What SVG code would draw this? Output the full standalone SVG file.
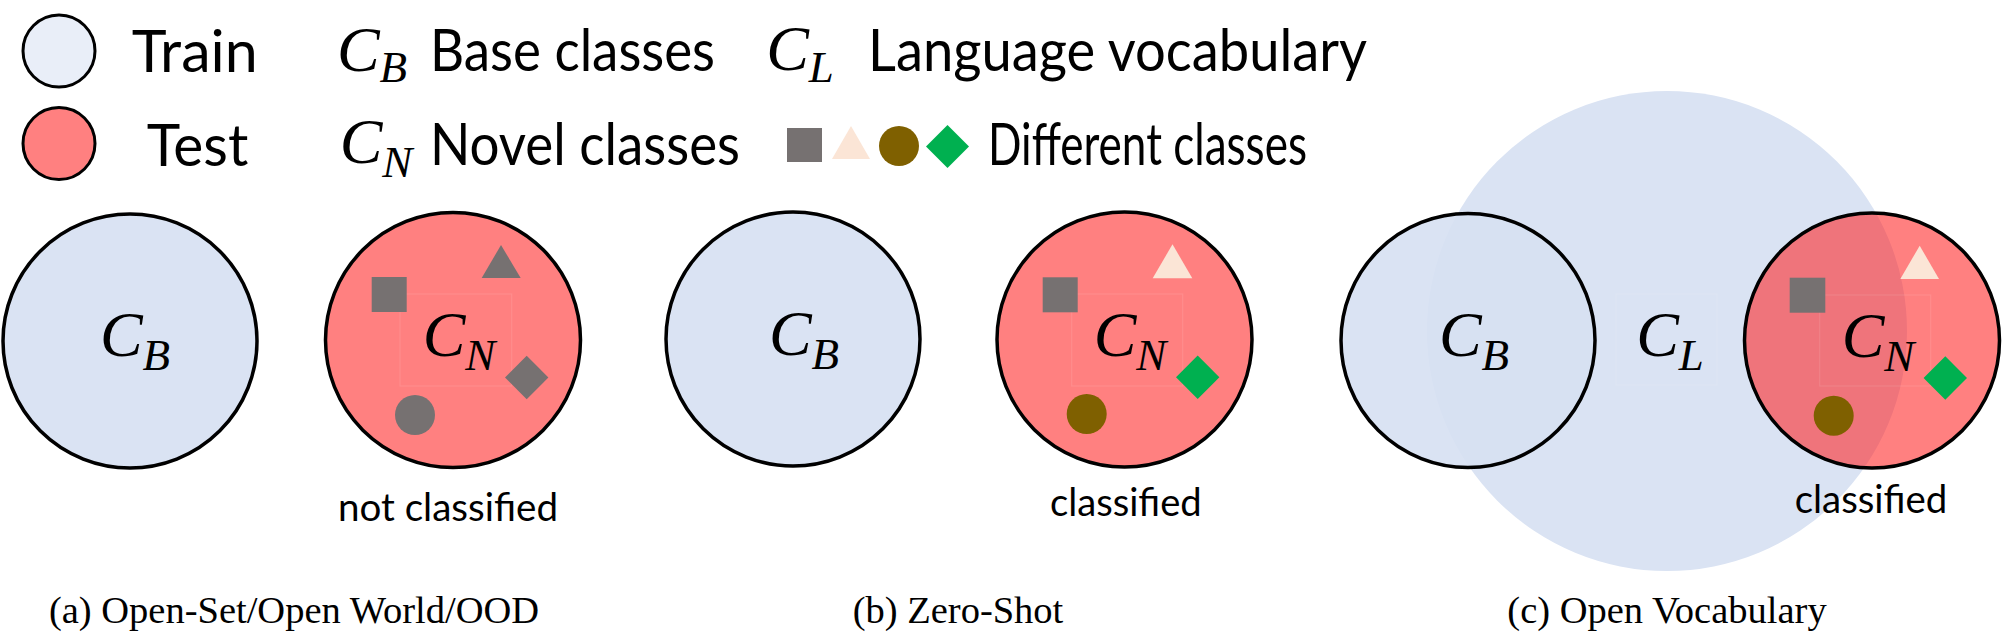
<svg xmlns="http://www.w3.org/2000/svg" width="2008" height="633" viewBox="0 0 2008 633">
<style>
.blue{fill:#DAE3F3;stroke:#000;stroke-width:3.5}
.bluet{fill:#D6E0F2;fill-opacity:.9;stroke:#000;stroke-width:3.5}
.red{fill:#FF2020;fill-opacity:.57;stroke:#000;stroke-width:3.5}
.lbl{font-family:Lato,'Open Sans','Liberation Sans',sans-serif;fill:#000}
.leg{font-size:58px}
.sm{font-size:38px}
.math{font-family:'Liberation Serif',serif;font-style:italic;font-size:64px;fill:#000;text-anchor:middle}
.sub{font-size:45px}
.cap{font-family:'Liberation Serif','Times New Roman',serif;font-size:38.5px;fill:#000;text-anchor:middle}
.gray{fill:#767171}
.peach{fill:#FBE5D6}
.brown{fill:#7F6000}
.green{fill:#00B050}
.tb{fill:none;stroke:#fff;stroke-opacity:.1;stroke-width:1.2}
</style>

<g id="legend">
  <g id="legend-train">
    <circle cx="59" cy="51" r="36" fill="#E9EEF8" stroke="#000" stroke-width="3"/>
    <text class="lbl leg" x="131.7" y="72" textLength="126" lengthAdjust="spacingAndGlyphs">Train</text>
  </g>
  <g id="legend-test">
    <circle cx="59" cy="143.5" r="36" fill="#FF2020" fill-opacity=".57" stroke="#000" stroke-width="3"/>
    <text class="lbl leg" x="146.7" y="166" textLength="101.6" lengthAdjust="spacingAndGlyphs">Test</text>
  </g>
  <g id="legend-cb">
    <text class="math" x="372" y="71">C<tspan class="sub" dy="11">B</tspan></text>
    <text class="lbl leg" x="430" y="71" textLength="285" lengthAdjust="spacingAndGlyphs">Base classes</text>
  </g>
  <g id="legend-cn">
    <text class="math" x="376" y="163">C<tspan class="sub" dy="14">N</tspan></text>
    <text class="lbl leg" x="430" y="165" textLength="310" lengthAdjust="spacingAndGlyphs">Novel classes</text>
  </g>
  <g id="legend-cl">
    <text class="math" x="800" y="70">C<tspan class="sub" dy="12">L</tspan></text>
    <text class="lbl leg" x="868" y="71" textLength="499" lengthAdjust="spacingAndGlyphs">Language vocabulary</text>
  </g>
  <g id="legend-shapes">
    <rect class="gray" x="787" y="128" width="35" height="34"/>
    <polygon class="peach" points="851,126 870,159 832,159"/>
    <circle class="brown" cx="899" cy="146" r="20"/>
    <polygon class="green" points="947.5,125 969,146.5 947.5,168 926,146.5"/>
    <text class="lbl leg" x="988" y="165" textLength="319" lengthAdjust="spacingAndGlyphs">Different classes</text>
  </g>
</g>

<g id="panel-a">
  <g id="a-base">
    <circle class="blue" cx="130" cy="341" r="127"/>
    <text class="math" x="135" y="356">C<tspan class="sub" dy="14">B</tspan></text>
  </g>
  <g id="a-novel">
    <circle class="red" cx="453" cy="340" r="127.5"/>
    <rect class="tb" x="400" y="294" width="111.7" height="92"/>
    <rect class="gray" x="371.7" y="277" width="35" height="35"/>
    <polygon class="gray" points="501,245 520.7,278 481.7,278"/>
    <circle class="gray" cx="415" cy="415" r="20"/>
    <polygon class="gray" points="526.7,355.8 548.4,377.5 526.7,399.2 505,377.5"/>
    <text class="math" x="459" y="356">C<tspan class="sub" dy="14">N</tspan></text>
    <text class="lbl sm" x="338" y="521" textLength="220" lengthAdjust="spacingAndGlyphs">not classified</text>
  </g>
  <text id="caption-a" class="cap" x="294" y="623">(a) Open-Set/Open World/OOD</text>
</g>

<g id="panel-b">
  <g id="b-base">
    <circle class="blue" cx="793" cy="339" r="127"/>
    <text class="math" x="804" y="355">C<tspan class="sub" dy="14">B</tspan></text>
  </g>
  <g id="b-novel">
    <circle class="red" cx="1124.5" cy="339.5" r="127.5"/>
    <rect class="tb" x="1071.7" y="294" width="111" height="92"/>
    <rect class="gray" x="1042.7" y="277.3" width="35" height="35"/>
    <polygon class="peach" points="1172.5,244.3 1192.3,278.3 1152.7,278.3"/>
    <circle class="brown" cx="1086.7" cy="414" r="20"/>
    <polygon class="green" points="1197.7,355.6 1219.4,377.3 1197.7,399 1176,377.3"/>
    <text class="math" x="1130" y="356">C<tspan class="sub" dy="14">N</tspan></text>
    <text class="lbl sm" x="1050" y="516" textLength="151.7" lengthAdjust="spacingAndGlyphs">classified</text>
  </g>
  <text id="caption-b" class="cap" x="958" y="623">(b) Zero-Shot</text>
</g>

<g id="panel-c">
  <g id="c-language">
    <circle cx="1667" cy="331" r="240" fill="#DAE3F3"/>
    <rect class="tb" x="1616" y="294" width="101" height="91"/>
    <text class="math" x="1670" y="356">C<tspan class="sub" dy="14">L</tspan></text>
  </g>
  <g id="c-base">
    <circle class="bluet" cx="1468" cy="340.5" r="127"/>
    <text class="math" x="1474" y="356">C<tspan class="sub" dy="14">B</tspan></text>
  </g>
  <g id="c-novel">
    <circle class="red" cx="1872" cy="340.5" r="127.5"/>
    <rect class="tb" x="1819.7" y="295" width="111" height="91"/>
    <rect class="gray" x="1789.7" y="277.7" width="35.6" height="35"/>
    <polygon class="peach" points="1919.7,245.7 1939,279 1900.3,279"/>
    <circle class="brown" cx="1833.7" cy="415.7" r="20"/>
    <polygon class="green" points="1945.3,356.3 1967,378 1945.3,399.7 1923.6,378"/>
    <text class="math" x="1878" y="357">C<tspan class="sub" dy="14">N</tspan></text>
    <text class="lbl sm" x="1794.7" y="513" textLength="152.6" lengthAdjust="spacingAndGlyphs">classified</text>
  </g>
  <text id="caption-c" class="cap" x="1667" y="623">(c) Open Vocabulary</text>
</g>
</svg>
